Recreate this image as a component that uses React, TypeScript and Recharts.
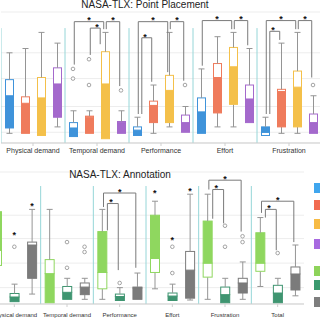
import { Bar, CartesianGrid, ComposedChart, ReferenceLine, Scatter, XAxis, YAxis } from "recharts";

const FONT = "'Liberation Sans', Arial, sans-serif";

// NASA-TLX: Point Placement -- [min, q1, median, q3, max] per task
const PLACEMENT_TASKS = ["Physical demand", "Temporal demand", "Performance", "Effort", "Frustration"];
const PLACEMENT_BLUE = [[5, 10, 40, 55, 80], [2, 2, 10, 15, 26], [3, 3, 8, 11, 20], [5, 5, 25, 38, 65], [3, 3, 6, 11, 20]];
const PLACEMENT_ORANGE = [[5, 5, 33, 39, 84], [5, 5, 20, 21, 26], [5, 15, 31, 35, 50], [11, 24, 57, 70, 95], [5, 11, 44, 46, 89]];
const PLACEMENT_YELLOW = [[3, 3, 38, 57, 99], [0, 0, 51, 81, 99], [11, 15, 45, 59, 99], [11, 32, 67, 85, 99], [5, 11, 48, 63, 99]];
const PLACEMENT_PURPLE = [[11, 20, 51, 66, 89], [5, 5, 15, 16, 26], [6, 6, 15, 22, 30], [15, 15, 37, 50, 84], [5, 5, 15, 23, 40]];
const PLACEMENT_BLUE_OUT = [[], [65, 56], [], [], []];
const PLACEMENT_ORANGE_OUT = [[], [74, 50], [], [], []];
const PLACEMENT_YELLOW_OUT = [[], [], [], [], []];
const PLACEMENT_PURPLE_OUT = [[], [45], [50], [], [50]];
// [from box, to box, bracket height, left leg end, right leg end]
const PLACEMENT_BRACKETS = [
  [4, 6, 109, 69, 102], [5, 6, 103, 78, 88], [6, 7, 109, 102, 49],
  [8, 10, 109, 23, 62], [8, 9, 94, 23, 53], [10, 11, 109, 102, 54],
  [12, 14, 110, 68, 102], [14, 15, 110, 102, 87],
  [16, 18, 110, 23, 102], [16, 17, 100, 23, 92], [18, 19, 110, 102, 57],
];

// NASA-TLX: Annotation
const ANNOTATION_TASKS = ["Physical demand", "Temporal demand", "Performance", "Effort", "Frustration", "Total"];
const ANNOTATION_GREEN = [[15, 32, 45, 78, 96], [0, 0, 25, 37, 80], [3, 12, 26, 61, 80], [12, 26, 38, 75, 87], [3, 22, 34, 70, 93], [14, 27, 34, 60, 73]];
const ANNOTATION_TEAL = [[1, 1, 5, 8, 16], [3, 3, 9, 14, 21], [2, 2, 5.4, 7.5, 13], [2, 2, 5.8, 8.4, 16], [0, 0, 7, 13.5, 21], [0, 0, 8.4, 15, 21]];
const ANNOTATION_GREY = [[7.5, 21, 49.5, 52, 80], [3, 7, 13.5, 17, 21], [3, 3, 12.7, 13.5, 25.5], [2.4, 4, 28, 44, 93], [3, 8.4, 17, 21, 35], [6, 11, 24.7, 30.7, 49.5]];
const ANNOTATION_GREEN_OUT = [[], [], [], [], [], []];
const ANNOTATION_TEAL_OUT = [[48], [52, 30], [17], [48, 25.5], [66, 48], [42.6]];
const ANNOTATION_GREY_OUT = [[], [48, 43.5], [], [], [57, 52], []];
const ANNOTATION_BRACKETS = [
  [6, 8, 94, 82, 30], [6, 7, 85, 62, 28],
  [12, 14, 105, 97, 61], [12, 13, 97, 72, 68],
  [15, 17, 87, 77, 52], [15, 16, 80, 73, 45],
];
const ANNOTATION_STARS = [[1, 60], [2, 85], [9, 96], [10, 56], [11, 98]];

const PLACEMENT_COLORS = ["#3f93da", "#ef7b5c", "#f4c04a", "#a469cc"];
const ANNOTATION_COLORS = ["#8fd75f", "#3f9571", "#7b7b7b"];
const LEGEND = [
  { color: "#40a6ee", top: 183 }, { color: "#f26b50", top: 200 }, { color: "#f7bb45", top: 219 },
  { color: "#a86ae0", top: 239 }, { color: "#8ed35a", top: 266 }, { color: "#3b9a6f", top: 280 },
  { color: "#7e7e7e", top: 297 },
];

const whisker = (side: "low" | "high") => (p: any) => {
  const top = Math.min(p.y, p.y + p.height);
  const h = Math.abs(p.height);
  if (!h || h < 0.5) return <g />;
  const cx = p.x + p.width / 2;
  const capY = side === "high" ? top : top + h;
  return (
    <g stroke="#959595" strokeWidth={1}>
      <line x1={cx} x2={cx} y1={top} y2={top + h} />
      <line x1={cx - 3} x2={cx + 3} y1={capY} y2={capY} />
    </g>
  );
};

// the larger half of each box is shaded, the other half left white
const boxHalf = (half: "lo" | "hi", colors: string[]) => (p: any) => {
  const top = Math.min(p.y, p.y + p.height);
  const h = Math.abs(p.height);
  if (!h || h < 0.3) return <g />;
  const row = p.payload;
  const shaded = row.lo >= row.hi ? "lo" : "hi";
  const color = colors[row.series];
  return (
    <rect x={p.x + 0.5} y={top} width={p.width - 1} height={h}
      fill={half === shaded ? color : "#fff"} stroke={color} strokeWidth={1} />
  );
};

function Panel(props: any) {
  const { tasks, series, outliers, colors, brackets, stars = [], yDomain, gridTicks, sepTop,
    width, height, marginTop, axisHeight, fontSize, tickMargin, barSize, starGap } = props;
  const n = series.length;

  const rows = tasks.flatMap((_: string, ti: number) =>
    series.map((s: number[][], si: number) => {
      const [mn, q1, md, q3, mx] = s[ti];
      return { key: `${ti}-${si}`, series: si, base: mn, wLow: q1 - mn, lo: md - q1, hi: q3 - md, wHigh: mx - q3 };
    })
  );
  const outlierPts = tasks.flatMap((_: string, ti: number) =>
    outliers.flatMap((o: number[][], si: number) => o[ti].map((v) => ({ x: ti * n + si, y: v })))
  );
  const starPts = [
    ...brackets.map((b: number[]) => ({ x: (b[0] + b[1]) / 2, y: b[2] + starGap })),
    ...stars.map((s: number[]) => ({ x: s[0], y: s[1] })),
  ];
  const labelTicks = tasks.map((_: string, i: number) => i * n + (n - 1) / 2);
  const seps = tasks.map((_: string, i: number) => i * n - 0.5);

  const legX = (b: number[], side: "from" | "to") => {
    const idx = side === "from" ? b[0] : b[1];
    const span = b[1] - b[0];
    const crowded = brackets.some((o: number[]) => o !== b && o[1] - o[0] > span && (side === "from" ? o[0] === idx : o[1] === idx));
    return idx + (side === "from" ? 1 : -1) * (crowded ? 0.3 : 0.08);
  };

  return (
    <ComposedChart width={width} height={height} data={rows} margin={{ top: marginTop, right: 0, bottom: 0, left: 0 }}>
      <CartesianGrid xAxisId="n" vertical={false} stroke="#ededed" />
      <XAxis xAxisId="n" dataKey="x" type="number" domain={[-0.5, tasks.length * n - 0.5]} allowDataOverflow
        ticks={labelTicks} interval={0} tickFormatter={(v: number) => tasks[labelTicks.indexOf(v)] ?? ""}
        height={axisHeight} tickSize={3} tickMargin={tickMargin} stroke="#cfcfcf"
        tick={{ fill: "#333", fontSize, fontFamily: FONT }} />
      <XAxis xAxisId="c" dataKey="key" type="category" hide height={0} />
      <YAxis domain={yDomain} ticks={gridTicks} hide allowDataOverflow />
      {seps.map((x: number) => (
        <ReferenceLine key={`sep${x}`} xAxisId="n" stroke="#96d6d8" strokeWidth={1}
          segment={[{ x, y: sepTop }, { x, y: yDomain[0] }]} />
      ))}
      <Bar xAxisId="c" dataKey="base" stackId="b" barSize={barSize} shape={() => <g />} isAnimationActive={false} />
      <Bar xAxisId="c" dataKey="wLow" stackId="b" barSize={barSize} shape={whisker("low")} isAnimationActive={false} />
      <Bar xAxisId="c" dataKey="lo" stackId="b" barSize={barSize} shape={boxHalf("lo", colors)} isAnimationActive={false} />
      <Bar xAxisId="c" dataKey="hi" stackId="b" barSize={barSize} shape={boxHalf("hi", colors)} isAnimationActive={false} />
      <Bar xAxisId="c" dataKey="wHigh" stackId="b" barSize={barSize} shape={whisker("high")} isAnimationActive={false} />
      {brackets.map((b: number[], i: number) => {
        const l = legX(b, "from");
        const r = legX(b, "to");
        return [
          <ReferenceLine key={`bt${i}`} xAxisId="n" stroke="#7a7a7a" segment={[{ x: l, y: b[2] }, { x: r, y: b[2] }]} />,
          <ReferenceLine key={`bl${i}`} xAxisId="n" stroke="#7a7a7a" segment={[{ x: l, y: b[2] }, { x: l, y: b[3] }]} />,
          <ReferenceLine key={`br${i}`} xAxisId="n" stroke="#7a7a7a" segment={[{ x: r, y: b[2] }, { x: r, y: b[4] }]} />,
        ];
      })}
      <Scatter xAxisId="n" data={outlierPts} dataKey="y" isAnimationActive={false}
        shape={(p: any) => <circle cx={p.cx} cy={p.cy} r={1.8} fill="#fff" stroke="#9a9a9a" strokeWidth={0.9} />} />
      <Scatter xAxisId="n" data={starPts} dataKey="y" isAnimationActive={false}
        shape={(p: any) => (
          <text x={p.cx} y={p.cy + 5.5} textAnchor="middle" fontSize={9} fontWeight="bold" fontFamily={FONT} fill="#111">*</text>
        )} />
    </ComposedChart>
  );
}

export default function App() {
  const titleStyle = { position: "absolute" as const, fontFamily: FONT, fontSize: 10, lineHeight: "12px", color: "#222", textAlign: "center" as const, width: 200 };
  return (
    <div style={{ position: "absolute", left: 0, top: 0, width: 320, height: 320, overflow: "hidden", background: "#fff" }}>
      <div style={{ position: "absolute", left: 1, top: 0 }}>
        <Panel tasks={PLACEMENT_TASKS}
          series={[PLACEMENT_BLUE, PLACEMENT_ORANGE, PLACEMENT_YELLOW, PLACEMENT_PURPLE]}
          outliers={[PLACEMENT_BLUE_OUT, PLACEMENT_ORANGE_OUT, PLACEMENT_YELLOW_OUT, PLACEMENT_PURPLE_OUT]}
          colors={PLACEMENT_COLORS} brackets={PLACEMENT_BRACKETS}
          yDomain={[-4, 118]} gridTicks={[6, 30, 56, 80]} sepTop={103}
          width={320} height={160} marginTop={12} axisHeight={17} fontSize={7} tickMargin={2} barSize={9} starGap={3.5} />
      </div>
      <div style={{ position: "absolute", left: -12.4, top: 160 }}>
        <Panel tasks={ANNOTATION_TASKS}
          series={[ANNOTATION_GREEN, ANNOTATION_TEAL, ANNOTATION_GREY]}
          outliers={[ANNOTATION_GREEN_OUT, ANNOTATION_TEAL_OUT, ANNOTATION_GREY_OUT]}
          colors={ANNOTATION_COLORS} brackets={ANNOTATION_BRACKETS} stars={ANNOTATION_STARS}
          yDomain={[-1, 112]} gridTicks={[13, 34, 55, 75]} sepTop={100}
          width={316} height={160} marginTop={12} axisHeight={16} fontSize={6} tickMargin={6} barSize={10} starGap={3.4} />
      </div>
      <div style={{ ...titleStyle, left: 45, top: -1 }}>NASA-TLX: Point Placement</div>
      <div style={{ ...titleStyle, left: 20, top: 169 }}>NASA-TLX: Annotation</div>
      {LEGEND.map((item) => (
        <div key={item.top} style={{ position: "absolute", left: 314, top: item.top, width: 10, height: 10, background: item.color }} />
      ))}
    </div>
  );
}
